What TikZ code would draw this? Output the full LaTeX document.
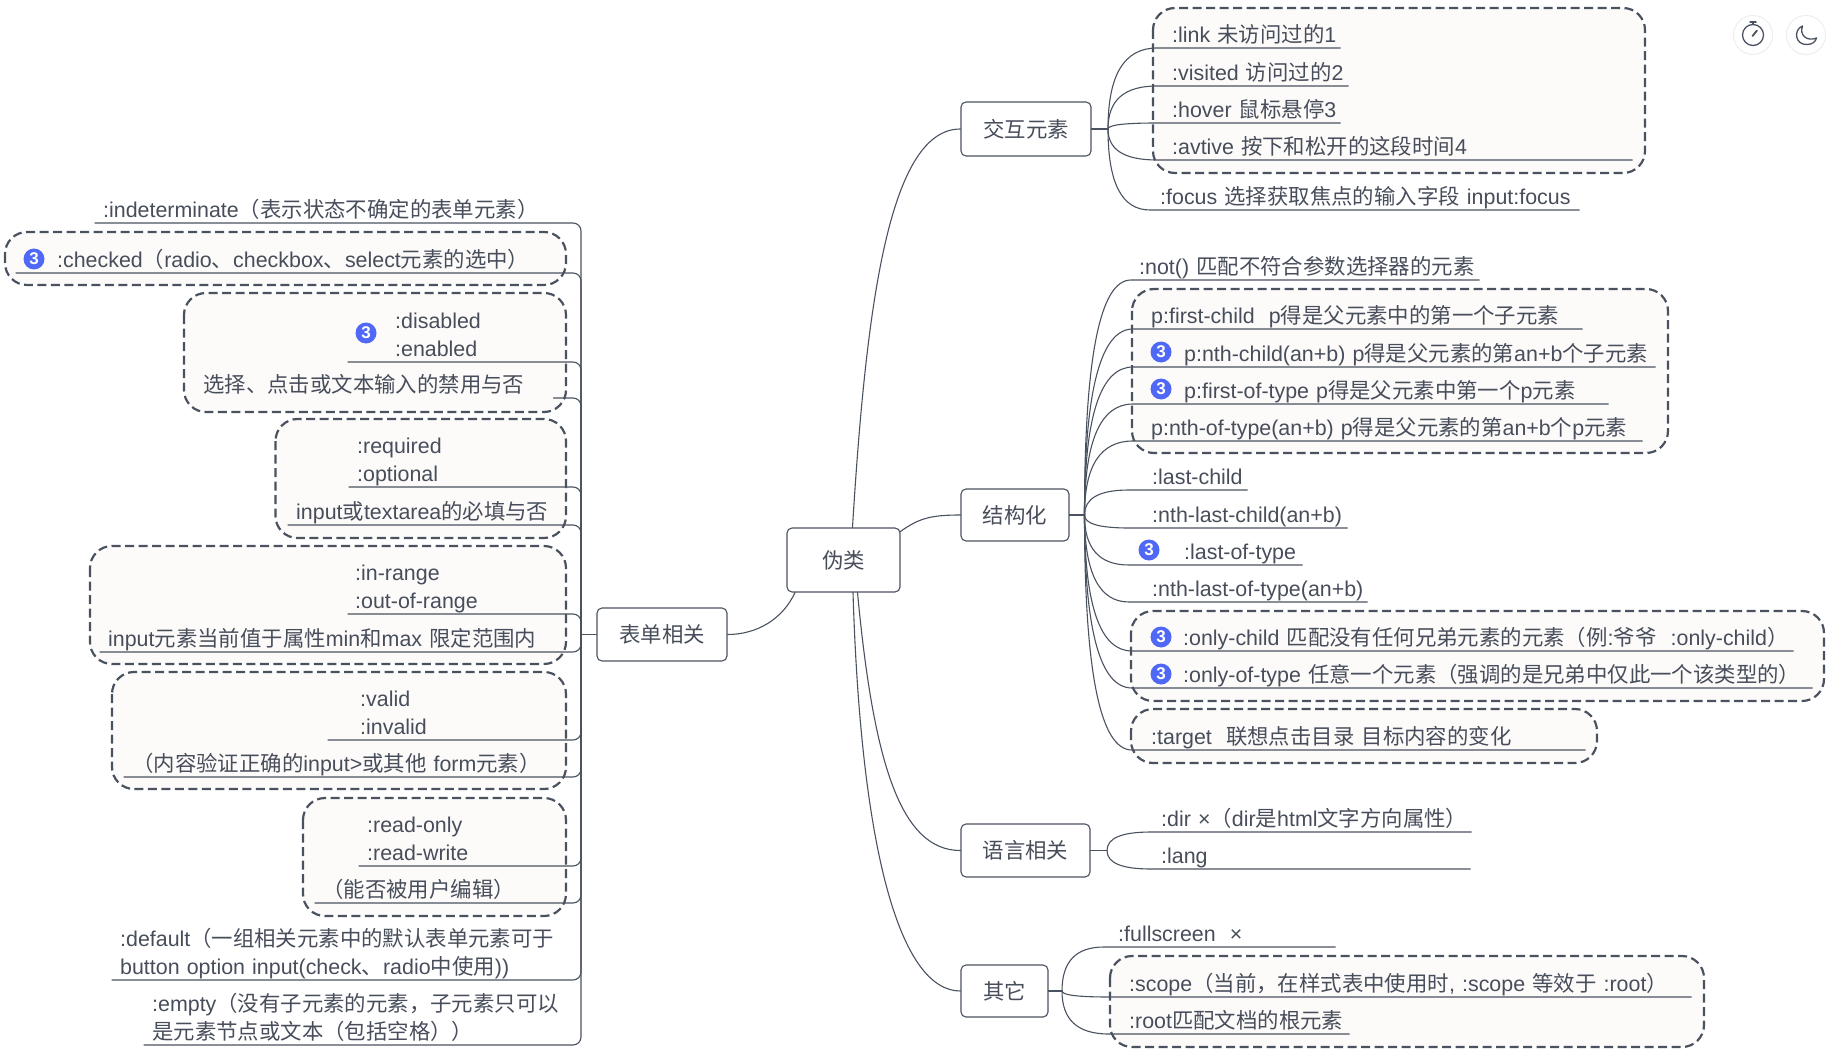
\documentclass[tikz,border=0pt]{standalone}
\usepackage{fontspec}
\setmainfont{Liberation Sans}
\newfontfamily\cjk{Noto Sans CJK SC}
\usetikzlibrary{calc}
\definecolor{inkgray}{HTML}{474D5A}
\definecolor{linegray}{HTML}{4A5260}
\definecolor{paperfill}{HTML}{FCFBFA}
\definecolor{badgeblue}{HTML}{4F68F5}
\newcommand{\leaffan}[2]{\foreach \leafname in {#2}
  \draw[branch] (#1) .. controls ($(#1)!.67!(#1 |- \leafname.south west)$) and ($(\leafname.south west)!.67!(#1 |- \leafname.south west)$) .. (\leafname.south west) -- (\leafname.south east);}

\begin{document}
\begin{tikzpicture}[x=1pt,y=-1pt,line cap=round,line join=round,
    topic/.style={draw=linegray,rounded corners=5pt,fill=white,line width=1.1pt,inner sep=0pt,
      text=inkgray,font=\cjk\fontsize{21.4}{26}\selectfont},
    leaf/.style 2 args={anchor=south west,inner sep=0pt,text width=#1pt,align=left,text=inkgray,
      font=\fontsize{21.4}{28}\selectfont,execute at begin node={\hspace*{#2pt}},
      execute at end node={\rule[-5.5pt]{0pt}{20pt}}},
    badge/.style={circle,fill=badgeblue,minimum size=21pt,inner sep=0pt,text=white,
      font=\bfseries\fontsize{17}{17}\selectfont},
    groupbox/.style={draw=linegray,fill=paperfill,line width=2.2pt,rounded corners=22pt,
      dash pattern=on 9pt off 4.5pt,line cap=butt},
    branch/.style={draw=linegray,line width=1.1pt},
    stub/.style={draw=linegray,line width=1.7pt},
    iconline/.style={draw=linegray,line width=1.3pt},
    iconring/.style={draw=black!7,line width=1pt}]
    \useasboundingbox (0,0) rectangle (1831,1059);

    % The dashed groups sit under everything else.
    \draw[groupbox] (1153,8) rectangle (1645,173);
    \draw[groupbox] (1132,289) rectangle (1668,453);
    \draw[groupbox] (1131,611) rectangle (1824,701);
    \draw[groupbox] (1131,709) rectangle (1597,763);
    \draw[groupbox] (1110,956) rectangle (1704,1047);
    \draw[groupbox] (5,232) rectangle (566,285);
    \draw[groupbox] (184,293) rectangle (566,412);
    \draw[groupbox] (275.5,419) rectangle (566,538);
    \draw[groupbox] (90,546) rectangle (566,664);
    \draw[groupbox] (112,672) rectangle (566,789);
    \draw[groupbox] (303,798) rectangle (566,916);

    % The root and its five topics.
    \node[topic,minimum width=113pt,minimum height=64pt] (weilei) at (843.5,560) {伪类};
    \node[topic,minimum width=130pt,minimum height=53pt] (biaodan) at (662,634.5) {表单相关};
    \node[topic,minimum width=130pt,minimum height=54pt] (jiaohu) at (1026,129) {交互元素};
    \node[topic,minimum width=108pt,minimum height=52pt] (jiegou) at (1015,515) {结构化};
    \node[topic,minimum width=129pt,minimum height=53pt] (yuyan) at (1025.5,850.5) {语言相关};
    \node[topic,minimum width=87pt,minimum height=52pt] (qita) at (1004.5,991) {其它};

    \coordinate (biaodanhub) at (581,634.5);
    \coordinate (jiaohuhub) at (1108,129);
    \coordinate (jiegouhub) at (1084.5,515);
    \coordinate (yuyanhub) at (1107,850.5);
    \coordinate (qitahub) at (1062,991);

    % Leaves of the interaction topic.
    \node[leaf={183}{15}] (link) at (1157,48) {:link {\cjk 未访问过的}1};
    \node[leaf={191}{15}] (visited) at (1157,86) {:visited {\cjk 访问过的}2};
    \node[leaf={183}{15}] (hover) at (1157,123) {:hover {\cjk 鼠标悬停}3};
    \node[leaf={475}{15}] (avtive) at (1157,160) {:avtive {\cjk 按下和松开的这段时间}4};
    \node[leaf={429}{10}] (focus) at (1150,210) {:focus {\cjk 选择获取焦点的输入字段} input:focus};

    % Leaves of the structure topic.
    \node[leaf={348}{8}] (notsel) at (1131,280) {:not() {\cjk 匹配不符合参数选择器的元素}};
    \node[leaf={449}{18}] (firstchild) at (1133,329) {p:first-child~~p{\cjk 得是父元素中的第一个子元素}};
    \node[leaf={522}{51}] (nthchild) at (1133,367) {p:nth-child(an+b) p{\cjk 得是父元素的第}an+b{\cjk 个子元素}};
    \node[leaf={475}{51}] (firsttype) at (1133,404) {p:first-of-type p{\cjk 得是父元素中第一个}p{\cjk 元素}};
    \node[leaf={509}{18}] (nthtype) at (1133,441) {p:nth-of-type(an+b) p{\cjk 得是父元素的第}an+b{\cjk 个}p{\cjk 元素}};
    \node[leaf={118}{23}] (lastchild) at (1129,490) {:last-child};
    \node[leaf={218}{23}] (nthlast) at (1129,528) {:nth-last-child(an+b)};
    \node[leaf={173}{55}] (lasttype) at (1129,565) {:last-of-type};
    \node[leaf={238}{23}] (nthlasttype) at (1129,602) {:nth-last-of-type(an+b)};
    \node[leaf={661}{51}] (onlychild) at (1132,651) {:only-child {\cjk 匹配没有任何兄弟元素的元素（例}:{\cjk 爷爷}~~:only-child{\cjk ）}};
    \node[leaf={680}{51}] (onlytype) at (1132,688) {:only-of-type {\cjk 任意一个元素（强调的是兄弟中仅此一个该类型的）}};
    \node[leaf={453}{19}] (target) at (1132,750) {:target~~{\cjk 联想点击目录 目标内容的变化}};
    \node[badge] (badgenth) at (1161,352) {3};
    \node[badge] (badgefirst) at (1161,389) {3};
    \node[badge] (badgelast) at (1149,550) {3};
    \node[badge] (badgechild) at (1161,637) {3};
    \node[badge] (badgetype) at (1161,674) {3};

    % Leaves of the language topic and of the last topic.
    \node[leaf={320}{10}] (dirattr) at (1151,832) {:dir ×{\cjk （}dir{\cjk 是}html{\cjk 文字方向属性）}};
    \node[leaf={319}{10}] (lang) at (1151,869) {:lang};
    \node[leaf={231}{14}] (fullscreen) at (1104,947) {:fullscreen~~×};
    \node[leaf={582}{20}] (scopeel) at (1109,997) {:scope{\cjk （当前，在样式表中使用时}, :scope {\cjk 等效于} :root{\cjk ）}};
    \node[leaf={240}{20}] (rootel) at (1109,1034) {:root{\cjk 匹配文档的根元素}};

    % Leaves of the form topic.
    \node[leaf={470}{8}] (indeterminate) at (95,223) {:indeterminate{\cjk （表示状态不确定的表单元素）}};
    \node[leaf={550}{41}] (checked) at (16,273) {:checked{\cjk （}radio{\cjk 、}checkbox{\cjk 、}select{\cjk 元素的选中）}};
    \node[leaf={220}{47}] (disabled) at (348,362) {:disabled\\ \hspace*{47pt}:enabled};
    \node[leaf={358}{8}] (xuanze) at (195,398) {{\cjk 选择、点击或文本输入的禁用与否}};
    \node[leaf={220}{8}] (required) at (349,487) {:required\\ \hspace*{8pt}:optional};
    \node[leaf={280}{8}] (inputor) at (288,525) {input{\cjk 或}textarea{\cjk 的必填与否}};
    \node[leaf={220}{7}] (inrange) at (348,614) {:in-range\\ \hspace*{7pt}:out-of-range};
    \node[leaf={470}{8}] (minmax) at (100,652) {input{\cjk 元素当前值于属性}min{\cjk 和}max {\cjk 限定范围内}};
    \node[leaf={240}{32}] (valid) at (328,740) {:valid\\ \hspace*{32pt}:invalid};
    \node[leaf={445}{8}] (yanzheng) at (124,777) {{\cjk （内容验证正确的}input>{\cjk 或其他} form{\cjk 元素）}};
    \node[leaf={210}{8}] (readonly) at (359,866) {:read-only\\ \hspace*{8pt}:read-write};
    \node[leaf={255}{7}] (nengfou) at (315,903) {{\cjk （能否被用户编辑）}};
    \node[leaf={460}{8}] (moren) at (112,980) {:default{\cjk （一组相关元素中的默认表单元素可于}\\ \hspace*{8pt}button option input(check{\cjk 、}radio{\cjk 中使用}))};
    \node[leaf={430}{8}] (kong) at (144,1045) {:empty{\cjk （没有子元素的元素，子元素只可以}\\ \hspace*{8pt}{\cjk 是元素节点或文本（包括空格））}};
    \node[badge] (badgechecked) at (34,259) {3};
    \node[badge] (badgedisabled) at (366,333) {3};

    % From the root out to the topics.
    \draw[branch] ([xshift=9pt]weilei.north) .. controls +(14,-230) and +(-70,0) .. (jiaohu.west);
    \draw[branch] ([yshift=-4pt]weilei.north east) .. controls +(18,-13) and +(-30,0) .. (jiegou.west);
    \draw[branch] ([xshift=14pt]weilei.south) .. controls +(16,170) and +(-60,0) .. (yuyan.west);
    \draw[branch] ([xshift=9.5pt]weilei.south) .. controls +(8,260) and +(-60,0) .. (qita.west);
    \draw[branch] ([xshift=-48.5pt]weilei.south) .. controls +(-12,26) and +(30,0) .. (biaodan.east);

    % From each topic out to its leaves, the line runs on under the text.
    \draw[stub] (jiaohu.east) -- (jiaohuhub);
    \leaffan{jiaohuhub}{link,visited,hover,avtive,focus}
    \draw[stub] (jiegou.east) -- (jiegouhub);
    \leaffan{jiegouhub}{notsel,firstchild,nthchild,firsttype,nthtype,lastchild,nthlast,lasttype,nthlasttype,onlychild,onlytype,target}
    \draw[branch] (yuyan.east) -- (yuyanhub);
    \leaffan{yuyanhub}{dirattr,lang}
    \draw[stub] (qita.east) -- (qitahub);
    \leaffan{qitahub}{fullscreen,scopeel,rootel}

    % The form leaves hang off one straight trunk.
    \draw[branch] (biaodan.west) -- (biaodanhub);
    \foreach \leafname in {indeterminate,checked,disabled,required,inputor,inrange,minmax,valid,yanzheng,readonly,nengfou,moren,kong}
      \draw[branch,rounded corners=8pt] (\leafname.south west) -- (\leafname.south west -| biaodanhub) -- (biaodanhub);
    \draw[branch,rounded corners=8pt] (xuanze.south east) -- (xuanze.south east -| biaodanhub) -- (biaodanhub);

    % The two buttons in the corner.
    \draw[iconring] (1753,35) circle (19.5pt);
    \draw[iconring] (1806,35) circle (19.5pt);
    \draw[iconline] (1753,35) circle (10.5pt);
    \draw[iconline] (1750,22) -- (1756,22);
    \draw[iconline] (1753,22) -- (1753,24.5);
    \draw[iconline,line width=1.8pt] (1752.5,36) -- (1757,30.5);
    \draw[iconline] (1802.5,26) .. controls (1793,30) and (1795,45) .. (1807,44.5)
      .. controls (1812,44.5) and (1815.5,42) .. (1816.5,38)
      .. controls (1807,42) and (1799,35) .. (1802.5,26) -- cycle;
  \end{tikzpicture}
\end{document}
